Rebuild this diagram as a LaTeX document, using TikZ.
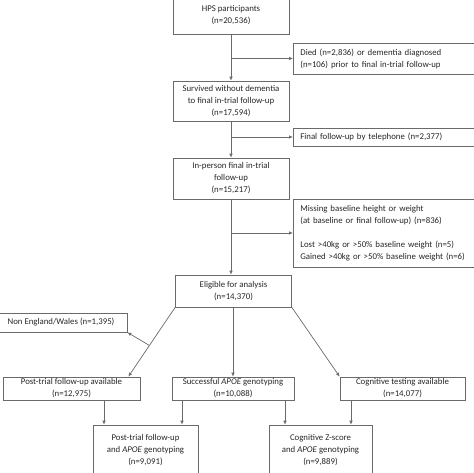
\documentclass[tikz,border=0pt]{standalone}
\usepackage{fontspec}
\setmainfont{Carlito}
\usetikzlibrary{arrows.meta,positioning}
\definecolor{linegray}{HTML}{6A6A6A}
\definecolor{textgray}{HTML}{262626}
\tikzset{
    box/.style={draw=linegray, line width=0.7pt, text=textgray, align=center,
        inner sep=0pt, font=\fontsize{8.8}{12}\selectfont},
    sidebox/.style={box, anchor=west, align=left, text width=176pt,
        minimum width=190pt, inner xsep=7pt},
    arr/.style={draw=linegray, line width=0.7pt, -{Latex[length=4pt,width=3.6pt]}},
    link/.style={draw=linegray, line width=0.7pt}
}
\begin{document}
\begin{tikzpicture}[x=1pt, y=-1pt]
    \useasboundingbox (0,0) rectangle (474,472);
    \clip (0,0) rectangle (474,472);
    % Main column
    \node[box, minimum width=116pt, minimum height=37pt] (hps) at (231,15.5)
        {HPS participants\\(n=20,536)};
    \node[sidebox, minimum height=31pt] (died) at (293,58.5)
        {Died (n=2,836) or dementia diagnosed\\(n=106) prior to final in-trial follow-up};
    \node[box, minimum width=116pt, minimum height=40pt] (surv) at (231,101)
        {Survived without dementia\\to final in-trial follow-up\\(n=17,594)};
    \node[sidebox, minimum height=18pt] (tel) at (293,137)
        {Final follow-up by telephone (n=2,377)};
    \node[box, minimum width=116pt, minimum height=41pt] (inp) at (231,178.5)
        {In-person final in-trial\\follow-up\\(n=15,217)};
    \node[sidebox, minimum height=68pt] (miss) at (293,233)
        {Missing baseline height or weight\\(at baseline or final follow-up) (n=836)\\[12pt]Lost >40kg or >50\% baseline weight (n=5)\\Gained >40kg or >50\% baseline weight (n=6)};
    \node[box, minimum width=116pt, minimum height=32pt] (elig) at (233.5,291)
        {Eligible for analysis\\(n=14,370)};
    % Branches
    \node[box, minimum width=132pt, minimum height=19pt] (nonew) at (61,322.5)
        {Non England/Wales (n=1,395)};
    \node[box, minimum width=137pt, minimum height=23pt] (post) at (71.5,388.5)
        {Post-trial follow-up available\\(n=12,975)};
    \node[box, minimum width=122pt, minimum height=23pt] (apoe) at (233,388.5)
        {Successful \textit{APOE} genotyping\\(n=10,088)};
    \node[box, minimum width=125pt, minimum height=23pt] (cogt) at (402.5,388.5)
        {Cognitive testing available\\(n=14,077)};
    \node[box, minimum width=105pt, minimum height=50pt] (postapoe) at (145.5,450)
        {Post-trial follow-up\\and \textit{APOE} genotyping\\(n=9,091)};
    \node[box, minimum width=103pt, minimum height=50pt] (cogz) at (320.5,450)
        {Cognitive Z-score\\and \textit{APOE} genotyping\\(n=9,889)};
    % Arrows down the main column
    \draw[arr] (hps) -- (surv);
    \draw[arr] (hps.south |- died.west) -- (died.west);
    \draw[arr] (surv) -- (inp);
    \draw[arr] (surv.south |- tel.west) -- (tel.west);
    \draw[arr] (inp.south) -- (inp.south |- elig.north);
    \draw[arr] (inp.south |- miss.west) -- (miss.west);
    % Arrows from eligible
    \coordinate (postin) at ([xshift=-12pt]post.north east);
    \draw[arr] (elig.south west) -- coordinate[pos=0.55] (split) (postin);
    \draw[arr] (split) -- (nonew.south east);
    \draw[arr] (elig.south -| apoe.north) -- (apoe.north);
    \coordinate (cogin) at (cogt.north west);
    \draw[arr] (elig.south east) -- (cogin);
    % Arrows to combined boxes
    \draw[arr] ([xshift=32.5pt]post.south) -- ([xshift=32.5pt]post.south |- postapoe.north);
    \draw[arr] ([xshift=-51pt]apoe.south) -- ([xshift=-51pt]apoe.south |- postapoe.north);
    \draw[arr] ([xshift=52pt]apoe.south) -- ([xshift=52pt]apoe.south |- cogz.north);
    \draw[arr] ([xshift=-51.5pt]cogt.south) -- ([xshift=-51.5pt]cogt.south |- cogz.north);
\end{tikzpicture}
\end{document}
